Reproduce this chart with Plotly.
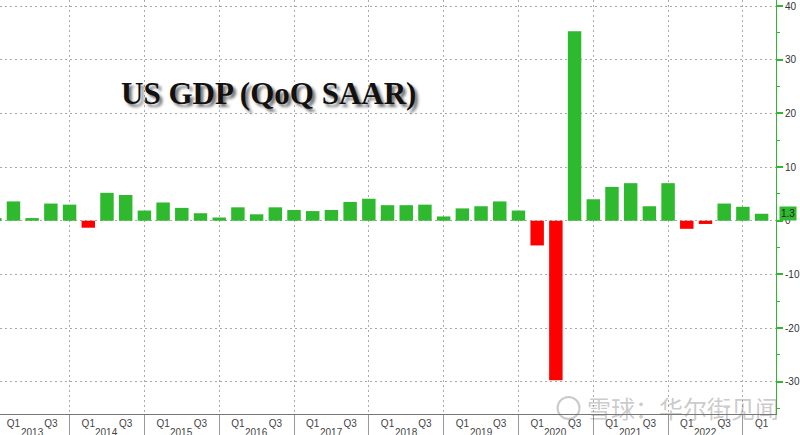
import plotly.graph_objects as go

# ---- data ----
quarters = ["2012Q4",
            "2013Q1", "2013Q2", "2013Q3", "2013Q4",
            "2014Q1", "2014Q2", "2014Q3", "2014Q4",
            "2015Q1", "2015Q2", "2015Q3", "2015Q4",
            "2016Q1", "2016Q2", "2016Q3", "2016Q4",
            "2017Q1", "2017Q2", "2017Q3", "2017Q4",
            "2018Q1", "2018Q2", "2018Q3", "2018Q4",
            "2019Q1", "2019Q2", "2019Q3", "2019Q4",
            "2020Q1", "2020Q2", "2020Q3", "2020Q4",
            "2021Q1", "2021Q2", "2021Q3", "2021Q4",
            "2022Q1", "2022Q2", "2022Q3", "2022Q4",
            "2023Q1"]
gdp_qoq_saar = [0.5,
                3.6, 0.5, 3.2, 3.0,
                -1.3, 5.2, 4.8, 1.9,
                3.4, 2.4, 1.4, 0.6,
                2.5, 1.2, 2.5, 2.0,
                1.8, 2.0, 3.5, 4.1,
                2.9, 2.9, 3.0, 0.8,
                2.3, 2.7, 3.6, 1.9,
                -4.6, -29.7, 35.3, 4.0,
                6.3, 7.0, 2.7, 7.0,
                -1.5, -0.6, 3.2, 2.6,
                1.3]
years = ["2013", "2014", "2015", "2016", "2017", "2018",
         "2019", "2020", "2021", "2022", "2023"]
y_tick_values = [40, 30, 20, 10, 0, -10, -20, -30]
y_tick_labels = ["40", "30", "20", "10", "0", "-10", "-20", "-30"]
title_text = "US GDP (QoQ SAAR)"
watermark_text = "雪球：华尔街见闻"

GREEN = "#2fb92f"
RED = "#ff0000"

# numeric quarter index: 2013Q1 -> 0
def q_index(q):
    return (int(q[:4]) - 2013) * 4 + int(q[-1]) - 1

xs = [q_index(q) for q in quarters]
colors = [GREEN if v >= 0 else RED for v in gdp_qoq_saar]

q_tick_x = [q_index(q) for q in quarters if q.endswith("Q1") or q.endswith("Q3")]
q_tick_text = [q[-2:] for q in quarters if q.endswith("Q1") or q.endswith("Q3")]
year_sep_x = [q_index(q) for q in quarters if q.endswith("Q4")]

fig = go.Figure(go.Bar(
    x=xs, y=gdp_qoq_saar,
    marker=dict(color=colors, line=dict(width=0)),
    hoverinfo="skip",
))

fig.update_layout(
    width=800, height=435,
    margin=dict(l=0, r=22, t=0, b=21),
    paper_bgcolor="white", plot_bgcolor="white",
    bargap=0.28,
    showlegend=False,
    font=dict(family="Liberation Sans, Arial, sans-serif", size=10, color="#333"),
)

fig.update_xaxes(
    range=[-0.72, 40.77],
    tickmode="array", tickvals=q_tick_x, ticktext=q_tick_text,
    ticks="", showgrid=False, zeroline=False,
    showline=True, linecolor="#777", linewidth=1,
    tickfont=dict(size=10, color="#444"),
    minor=dict(tickmode="array", tickvals=year_sep_x,
               showgrid=True, gridcolor="#aaaaaa", griddash="2px,3px", gridwidth=1,
               ticks="outside", ticklen=22, tickcolor="#999", tickwidth=1),
)

fig.update_yaxes(
    side="right",
    range=[-36.0, 41.12],
    tickmode="array", tickvals=y_tick_values, ticktext=y_tick_labels,
    showgrid=True, gridcolor="#aaaaaa", griddash="2px,3px", gridwidth=1,
    zeroline=False,
    showline=True, linecolor=GREEN, linewidth=1,
    ticks="outside", ticklen=6, tickwidth=2, tickcolor=GREEN,
    tickfont=dict(size=10, color="#333"),
    minor=dict(dtick=5, ticks="outside", ticklen=3, tickcolor=GREEN, tickwidth=1, showgrid=False),
)

annotations = []
# year labels centred under each year block
for yr in years:
    annotations.append(dict(
        x=q_index(yr + "Q2"), xref="x", y=-0.044, yref="paper",
        text=yr, showarrow=False, xanchor="center", yanchor="middle",
        font=dict(size=10, color="#444"),
    ))

# title with shadow
annotations.append(dict(
    x=0.346, y=0.775, xref="paper", yref="paper",
    text=title_text, showarrow=False, xanchor="center", yanchor="middle",
    font=dict(family="Liberation Serif, Times New Roman, serif", size=31,
              color="#111", weight=700, shadow="3px 3px 3px rgba(0,0,0,0.55)"),
))

# last value tag
annotations.append(dict(
    x=1.0, xref="paper", y=gdp_qoq_saar[-1], yref="y",
    text=f"{gdp_qoq_saar[-1]:.1f}", showarrow=False, xanchor="left", yanchor="middle",
    xshift=3, bgcolor=GREEN, borderpad=1,
    font=dict(size=10, color="#222"),
))

# watermark
annotations.append(dict(
    x=0.88, y=0.016, xref="paper", yref="paper",
    text=watermark_text, showarrow=False, xanchor="center", yanchor="middle",
    font=dict(family="Noto Sans CJK SC", size=24, color="rgba(120,120,120,0.4)"),
))

fig.update_layout(annotations=annotations)

# watermark logo circle
fig.add_shape(type="circle", xref="paper", yref="paper",
              x0=559 / 778, x1=581 / 778, y0=(414 - 419) / 414, y1=(414 - 397) / 414,
              line=dict(color="rgba(120,120,120,0.4)", width=2), layer="above")

fig.write_html("out.html", config={"displayModeBar": False},
               post_script="document.body.style.margin='0';")
